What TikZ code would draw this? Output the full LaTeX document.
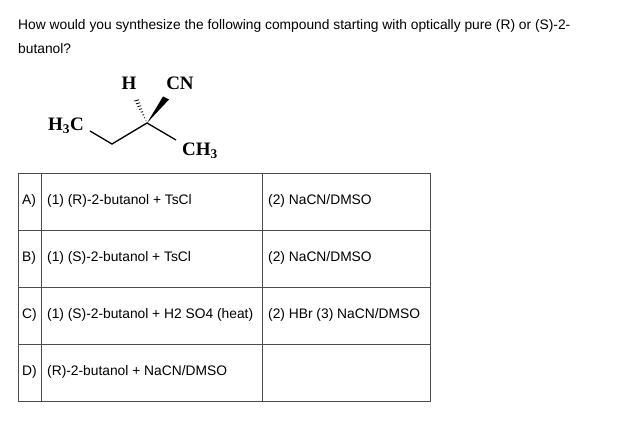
\documentclass[tikz,border=0pt]{standalone}
\usetikzlibrary{calc}
\usepackage{fontspec}
\setmainfont{Liberation Sans}
\newfontfamily\chem{Liberation Serif}
\begin{document}
\begin{tikzpicture}[x=1pt,y=-1pt,
  txt/.style={anchor=west,inner sep=0pt,font=\fontsize{13.8}{15}\selectfont},
  atom/.style={inner sep=0pt,font=\chem\bfseries\fontsize{19}{19}\selectfont},
  cell/.style={draw=black!70,line width=0.8pt}]
\useasboundingbox (0,0) rectangle (618,427);
\node[txt] (q1) at (18,26) {How would you synthesize the following compound starting with optically pure (R) or (S)-2-};
\node[txt] (q2) at (18,49) {butanol?};
% molecule
\node[atom] (h3c) at (66,126) {H\textsubscript{3}C};
\coordinate (c1) at (90,131);
\coordinate (c2) at (112,144);
\coordinate (c3) at (147,123);
\coordinate (c4) at (176,140);
\coordinate (ch) at (136,99);
\coordinate (ccn) at (166,98);
\node[atom] (hh) at (129,83) {H};
\node[atom] (cn) at (180,83) {CN};
\node[atom] (ch3) at (200,151) {CH\textsubscript{3}};
\draw[line width=1.3pt] (c1) -- (c2) -- (c3) -- (c4);
\fill (c3) -- ($(ccn)+(-3,-1.5)$) -- ($(ccn)+(3,1.5)$) -- cycle;
\foreach \t in {0.1,0.22,...,0.95}
  \draw[line width=0.8pt] ($(c3)!\t!(ch)+(-\t*2.5,\t*0.7)$) -- ($(c3)!\t!(ch)+(\t*2.5,-\t*0.7)$);
% table
\foreach \y in {173,230,287,344}{
  \draw[cell] (18,\y) rectangle (41,\y+57);
  \draw[cell] (41,\y) rectangle (262,\y+57);
  \draw[cell] (262,\y) rectangle (430,\y+57);
}
\node[txt] (la) at (22,201) {A)};
\node[txt] (a1) at (47,201) {(1) (R)-2-butanol + TsCl};
\node[txt] (a2) at (268,201) {(2) NaCN/DMSO};
\node[txt] (lb) at (22,258) {B)};
\node[txt] (b1) at (47,258) {(1) (S)-2-butanol + TsCl};
\node[txt] (b2) at (268,258) {(2) NaCN/DMSO};
\node[txt] (lc) at (22,315) {C)};
\node[txt] (c1t) at (47,315) {(1) (S)-2-butanol + H2 SO4 (heat)};
\node[txt] (c2t) at (268,315) {(2) HBr (3) NaCN/DMSO};
\node[txt] (ld) at (22,372) {D)};
\node[txt] (d1) at (47,372) {(R)-2-butanol + NaCN/DMSO};
\end{tikzpicture}
\end{document}
